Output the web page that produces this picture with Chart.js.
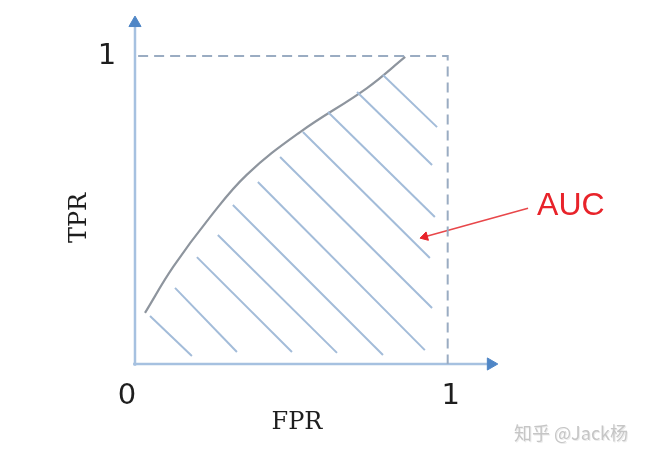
<!DOCTYPE html>
<html>
<head>
<meta charset="utf-8">
<script src="https://cdn.jsdelivr.net/npm/chart.js@4.4.1/dist/chart.umd.min.js"></script>
<style>
html,body{margin:0;padding:0;background:#fff;}
#c{display:block;}
</style>
</head>
<body>
<canvas id="c" width="646" height="458"></canvas>
<script>
// ROC curve (FPR, TPR)
const rocFPR = [0.032, 0.122, 0.240, 0.358, 0.528, 0.742, 0.864];
const rocTPR = [0.166, 0.315, 0.477, 0.615, 0.753, 0.896, 0.997];
// hatch segments under the curve (start / end, data units)
const hatchStartX = [0.048, 0.128, 0.198, 0.265, 0.313, 0.393, 0.464, 0.537, 0.617, 0.710, 0.793];
const hatchStartY = [0.156, 0.247, 0.347, 0.419, 0.516, 0.591, 0.672, 0.753, 0.818, 0.883, 0.938];
const hatchEndX   = [0.182, 0.326, 0.502, 0.646, 0.793, 0.927, 0.950, 0.943, 0.959, 0.950, 0.966];
const hatchEndY   = [0.026, 0.039, 0.039, 0.036, 0.029, 0.045, 0.182, 0.344, 0.477, 0.646, 0.769];
// unit box corners (dashed)
const boxX = [0.01, 1, 1];
const boxY = [1, 1, 0];
// axis extents
const axisXEnd = 1.138;
const axisYEnd = 1.107;
// tick labels
const xTickValues = [0, 1];
const xTickLabels = ['0', '1'];
const yTickValues = [1];
const yTickLabels = ['1'];
const xTitle = 'FPR';
const yTitle = 'TPR';
const annotationLabel = 'AUC';
const annotationFrom = [1.257, 0.506];
const annotationTo = [0.927, 0.413];
const watermark = '知乎 @Jack杨';

const pts = (xs, ys) => xs.map((x, i) => ({x: x, y: ys[i]}));

const datasets = [];
hatchStartX.forEach((_, i) => {
  datasets.push({
    data: [{x: hatchStartX[i], y: hatchStartY[i]}, {x: hatchEndX[i], y: hatchEndY[i]}],
    borderColor: '#a3bcd9', borderWidth: 2, pointRadius: 0, showLine: true, tension: 0
  });
});
datasets.push({
  data: pts(boxX, boxY),
  borderColor: '#9aacc2', borderWidth: 2, borderDash: [10, 6], pointRadius: 0, showLine: true, tension: 0
});
datasets.push({
  data: pts(rocFPR, rocTPR),
  borderColor: '#8e959e', borderWidth: 2.2, pointRadius: 0, showLine: true,
  tension: 0.4
});
// axes with arrowheads
datasets.push({
  data: [{x: -0.006, y: 0}, {x: axisXEnd, y: 0}],
  borderColor: '#a6c1e0', borderWidth: 2.5, showLine: true,
  pointRadius: [0, 7], pointStyle: 'triangle', rotation: [0, 90],
  pointBackgroundColor: '#4f86c6', pointBorderColor: '#4f86c6', pointBorderWidth: 1
});
datasets.push({
  data: [{x: 0, y: -0.006}, {x: 0, y: axisYEnd}],
  borderColor: '#a6c1e0', borderWidth: 2.5, showLine: true,
  pointRadius: [0, 7], pointStyle: 'triangle', rotation: [0, 0],
  pointBackgroundColor: '#4f86c6', pointBorderColor: '#4f86c6', pointBorderWidth: 1
});
// AUC pointer
datasets.push({
  data: [{x: annotationFrom[0], y: annotationFrom[1]}, {x: annotationTo[0], y: annotationTo[1]}],
  borderColor: '#e8474a', borderWidth: 1.6, showLine: true,
  pointRadius: [0, 5], pointStyle: 'triangle', rotation: [0, 254.5],
  pointBackgroundColor: '#e8232a', pointBorderColor: '#e8232a', pointBorderWidth: 1
});

const textPlugin = {
  id: 'texts',
  afterDatasetsDraw(chart) {
    const ctx = chart.ctx, sx = chart.scales.x, sy = chart.scales.y;
    ctx.save();
    ctx.textAlign = 'center';
    ctx.textBaseline = 'middle';
    ctx.fillStyle = '#1e1e1e';
    ctx.font = '29px "DejaVu Sans", sans-serif';
    xTickValues.forEach((v, i) => {
      ctx.fillText(xTickLabels[i], sx.getPixelForValue(v) + (i === 0 ? -8 : 3), sy.getPixelForValue(-0.104));
    });
    yTickValues.forEach((v, i) => {
      ctx.fillText(yTickLabels[i], sx.getPixelForValue(-0.0895), sy.getPixelForValue(v));
    });
    ctx.font = '24px "DejaVu Serif", serif';
    ctx.fillText(xTitle, sx.getPixelForValue(0.518), sy.getPixelForValue(-0.192));
    ctx.save();
    ctx.translate(sx.getPixelForValue(-0.176), sy.getPixelForValue(0.474));
    ctx.rotate(-Math.PI / 2);
    ctx.fillText(yTitle, 0, 0);
    ctx.restore();
    ctx.fillStyle = '#e8232a';
    ctx.textAlign = 'left';
    ctx.font = '32px "Liberation Sans", sans-serif';
    ctx.fillText(annotationLabel, sx.getPixelForValue(1.286), sy.getPixelForValue(0.513));
    ctx.textAlign = 'right';
    ctx.font = '18px "Noto Sans CJK SC", sans-serif';
    ctx.fillStyle = '#ececec';
    ctx.fillText(watermark, chart.chartArea.right - 17, chart.chartArea.bottom - 24);
    ctx.fillStyle = '#c6c6c6';
    ctx.fillText(watermark, chart.chartArea.right - 18, chart.chartArea.bottom - 25);
    ctx.restore();
  }
};

new Chart(document.getElementById('c'), {
  type: 'scatter',
  data: {datasets: datasets},
  options: {
    responsive: false,
    animation: false,
    events: [],
    layout: {padding: 0, autoPadding: false},
    plugins: {legend: {display: false}, tooltip: {enabled: false}, title: {display: false}},
    scales: {
      x: {type: 'linear', display: false, min: -0.4317, max: 1.6342},
      y: {type: 'linear', display: false, min: -0.3052, max: 1.1818}
    }
  },
  plugins: [textPlugin]
});
</script>
</body>
</html>
